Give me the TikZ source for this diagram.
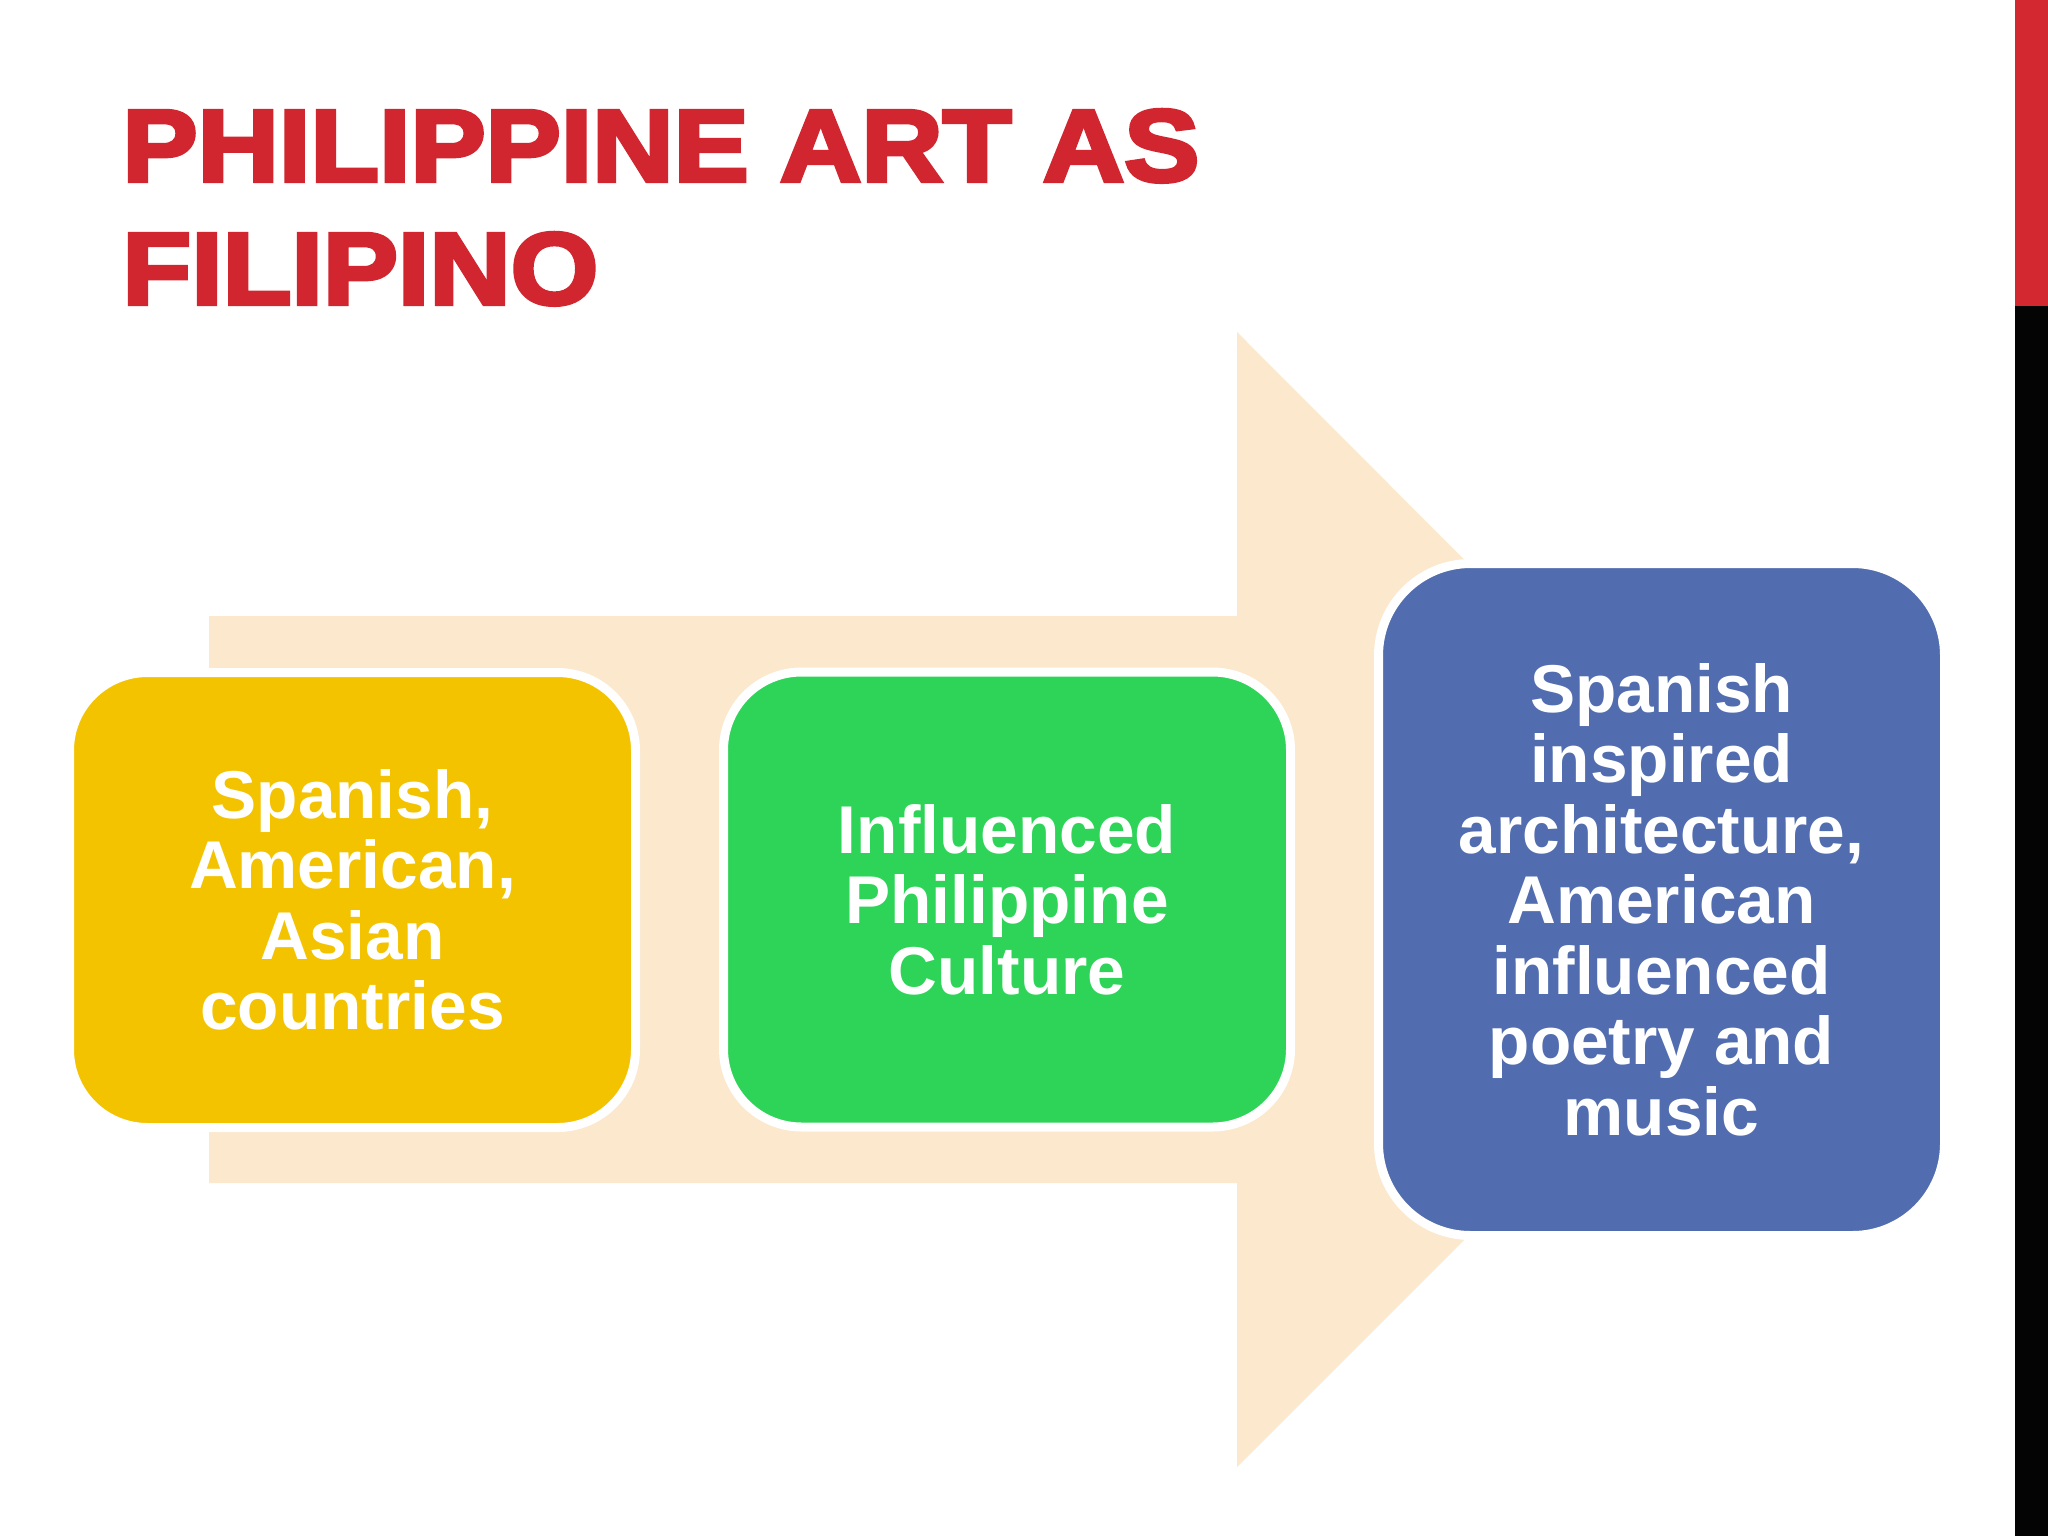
\documentclass[tikz,border=0pt]{standalone}
\usepackage{fontspec}
\setmainfont{Liberation Sans}
\newfontfamily\titlefont{Liberation Sans}[BoldFeatures={FakeBold=4,FakeStretch=1.105}]
\newfontfamily\boxfont{Liberation Sans}
\definecolor{yellowbox}{HTML}{F3C300}
\definecolor{greenbox}{HTML}{2DD457}
\definecolor{bluebox}{HTML}{526DAF}
\definecolor{peach}{HTML}{FBE8CD}
\definecolor{titlered}{HTML}{D1262F}
\definecolor{barred}{HTML}{D3282F}
\definecolor{barblack}{HTML}{040404}
\begin{document}
\begin{tikzpicture}[x=0.5pt,y=-0.5pt,
  box/.style={rectangle, rounded corners=39pt, draw=white, line width=4.5pt,
    text=white, font=\boxfont\bfseries\fontsize{33.8pt}{35.25pt}\selectfont,
    align=center, inner sep=0pt},
  titletext/.style={anchor=base west, inner sep=0pt, text=titlered,
    font=\titlefont\bfseries\fontsize{51pt}{61.5pt}\selectfont}]
\useasboundingbox (0,0) rectangle (2048,1536);
\fill[white] (0,0) rectangle (2048,1536);
% right edge bar
\fill[barred] (2015,0) rectangle (2048,306);
\fill[barblack] (2015,306) rectangle (2048,1536);
% big background arrow
\fill[peach] (209,616) -- (1237,616) -- (1237,332) -- (1804,900)
  -- (1237,1467) -- (1237,1183) -- (209,1183) -- cycle;
% title
\node[titletext] (t1) at (122,181) {PHILIPPINE ART AS};
\node[titletext] (t2) at (122,304) {FILIPINO};
% boxes
\node[box, fill=yellowbox, minimum width=283pt, minimum height=227.5pt]
  (src) at (352.5,900) {Spanish,\\American,\\Asian\\countries};
\node[box, fill=greenbox, minimum width=283.5pt, minimum height=227.5pt]
  (mid) at (1007,899.5) {Influenced\\Philippine\\Culture};
\node[box, fill=bluebox, rounded corners=46pt, minimum width=283pt, minimum height=336pt]
  (res) at (1661.5,899.5) {Spanish\\inspired\\architecture,\\American\\influenced\\poetry and\\music};
\end{tikzpicture}
\end{document}
